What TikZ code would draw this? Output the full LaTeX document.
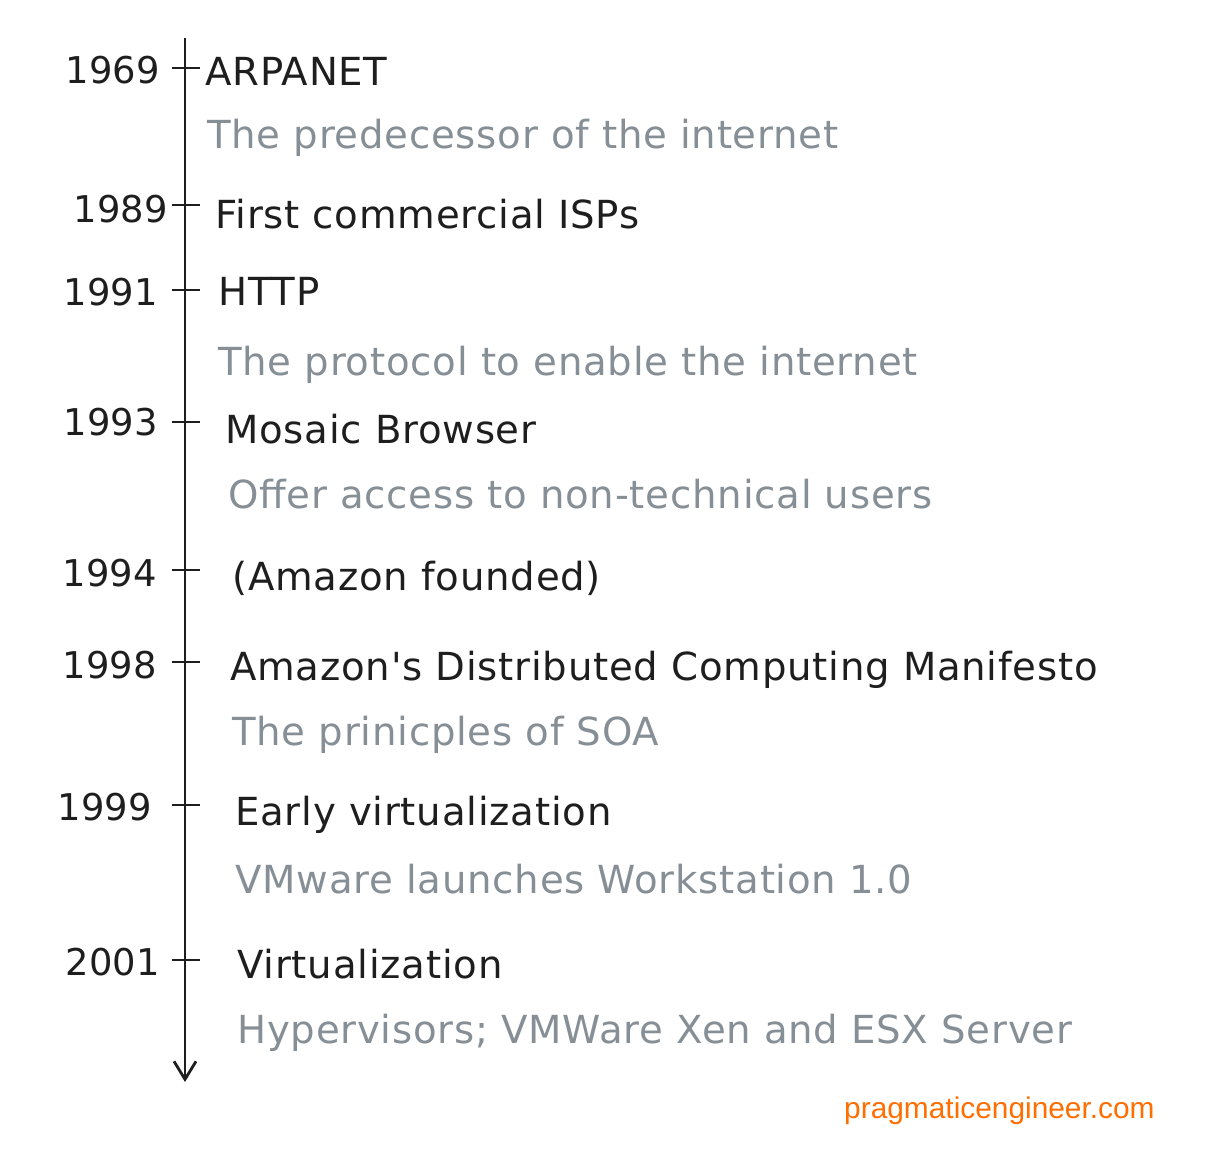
\documentclass[tikz,border=0pt]{standalone}
\usepackage{fontspec}
\setmainfont{DejaVu Sans}
\newfontfamily\eventfont[LetterSpace=2]{DejaVu Sans}
\newfontfamily\sitefont{Liberation Sans}
\usetikzlibrary{arrows.meta}
\definecolor{inkblack}{RGB}{30,30,30}
\definecolor{inkgray}{RGB}{134,142,150}
\definecolor{siteorange}{RGB}{255,110,0}
\tikzstyle{year}=[inner sep=0pt, anchor=base east, text=inkblack, font=\fontsize{21}{24}\selectfont]
\tikzstyle{event}=[inner sep=0pt, anchor=base west, text=inkblack, font=\eventfont\fontsize{22}{26}\selectfont]
\tikzstyle{note}=[event, text=inkgray]
\tikzstyle{tickmark}=[line width=1.6pt, draw=inkblack]

\begin{document}
\begin{tikzpicture}[x=0.02cm, y=-0.02cm]
        \useasboundingbox (0,0) rectangle (1226,1164);
        % axis
        \coordinate (axtop) at (185,38);
        \coordinate (axbot) at (185,1082);
        \draw[line width=1.6pt, draw=inkblack, -{Straight Barb[length=0.36cm, width=0.44cm, line width=1.6pt]}] (axtop) -- (axbot);
        % ticks
        \coordinate (t1969) at (185,68);
        \coordinate (t1989) at (185,205);
        \coordinate (t1991) at (185,290);
        \coordinate (t1993) at (185,422);
        \coordinate (t1994) at (185,570);
        \coordinate (t1998) at (185,662);
        \coordinate (t1999) at (185,805);
        \coordinate (t2001) at (185,960);
        \foreach \t in {t1969, t1989, t1991, t1993, t1994, t1998, t1999, t2001}
            \draw[tickmark] (\t) +(-13,0) -- +(15,0);
        % years
        \node[year] (y1969) at (160,83) {1969};
        \node[year] (y1989) at (168,222) {1989};
        \node[year] (y1991) at (158,305) {1991};
        \node[year] (y1993) at (158,435) {1993};
        \node[year] (y1994) at (157,586) {1994};
        \node[year] (y1998) at (157,678) {1998};
        \node[year] (y1999) at (152,820) {1999};
        \node[year] (y2001) at (160,975) {2001};
        % events
        \node[event] (arpanet) at (205,85) {ARPANET};
        \node[note] (arpanetnote) at (207,148) {The predecessor of the internet};
        \node[event] (isps) at (215,228) {First commercial ISPs};
        \node[event] (http) at (218,305) {HTTP};
        \node[note] (httpnote) at (218,375) {The protocol to enable the internet};
        \node[event] (mosaic) at (225,443) {Mosaic Browser};
        \node[note] (mosaicnote) at (228,508) {Offer access to non-technical users};
        \node[event] (amazon) at (232,590) {(Amazon founded)};
        \node[event] (manifesto) at (230,680) {Amazon's Distributed Computing Manifesto};
        \node[note] (manifestonote) at (232,745) {The prinicples of SOA};
        \node[event] (earlyvirt) at (235,825) {Early virtualization};
        \node[note] (earlyvirtnote) at (235,893) {VMware launches Workstation 1.0};
        \node[event] (virt) at (237,978) {Virtualization};
        \node[note] (virtnote) at (237,1043) {Hypervisors; VMWare Xen and ESX Server};
        % site
        \node[inner sep=0pt, anchor=base east, text=siteorange, font=\sitefont\fontsize{17}{20}\selectfont] (site) at (1155,1118) {pragmaticengineer.com};
    \end{tikzpicture}
\end{document}
